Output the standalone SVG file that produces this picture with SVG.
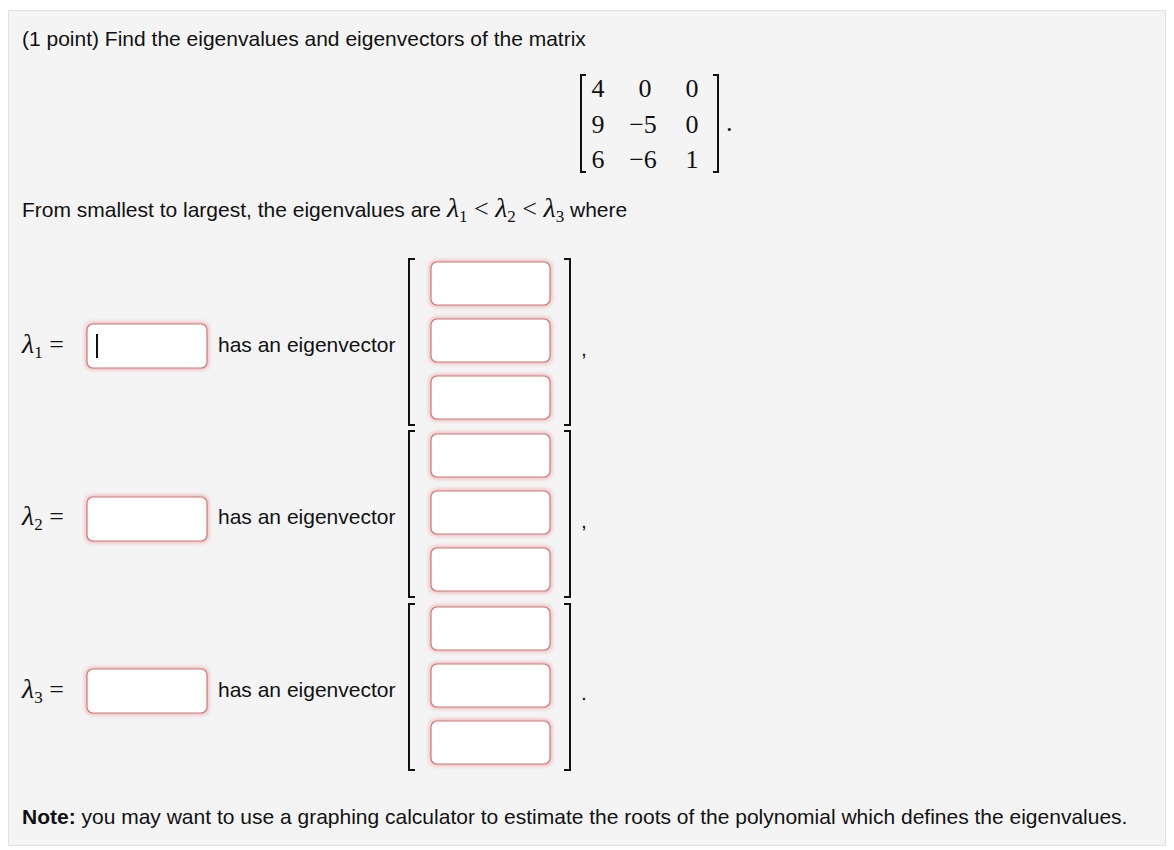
<svg xmlns="http://www.w3.org/2000/svg" width="1174" height="850" viewBox="0 0 1174 850">
<defs>
<filter id="glow" x="-20%" y="-30%" width="140%" height="160%"><feGaussianBlur stdDeviation="2.5"/></filter>
<g id="box"><rect x="-1" y="-1" width="122" height="46" rx="6" fill="#e8a0a0" filter="url(#glow)"/><rect x="0" y="0" width="120" height="44" rx="6" fill="#fff" stroke="#d47a7a" stroke-width="1.2"/></g>
<g id="vbox"><rect x="-1" y="-1" width="121" height="45" rx="6" fill="#e8a0a0" filter="url(#glow)"/><rect x="0" y="0" width="119" height="43" rx="6" fill="#fff" stroke="#d47a7a" stroke-width="1.2"/></g>
</defs>
<style>
.s{font-family:"Liberation Sans",Arial,sans-serif;font-size:21px;fill:#111}
.m{font-family:"Liberation Serif","DejaVu Serif",serif;font-size:26px;fill:#111}
.l{font-family:"Liberation Serif","DejaVu Serif",serif;font-size:28px;font-style:italic;fill:#111}
.sub{font-family:"Liberation Serif",serif;font-size:17px;fill:#111}
.br{fill:none;stroke:#111;stroke-width:2}
</style>
<rect width="1174" height="850" fill="#fff"/>
<rect x="8.5" y="10.5" width="1157" height="835" fill="#f4f4f4" stroke="#e2e2e2"/>
<text class="s" x="22" y="46">(1 point) Find the eigenvalues and eigenvectors of the matrix</text>
<g id="matrix">
<path class="br" d="M586,75 h-5 v97 h5 M713,75 h5 v97 h-5"/>
<g class="m" text-anchor="middle">
<text x="598" y="97">4</text><text x="645" y="97">0</text><text x="692" y="97">0</text>
<text x="598" y="133">9</text><text x="643" y="133">−5</text><text x="692" y="133">0</text>
<text x="598" y="168">6</text><text x="643" y="168">−6</text><text x="692" y="168">1</text>
</g>
<text class="m" x="726" y="131">.</text>
</g>
<text class="s" x="22" y="217">From smallest to largest, the eigenvalues are <tspan class="l">λ</tspan><tspan class="sub" dy="5">1</tspan><tspan class="m" dy="-5">  &lt;  </tspan><tspan class="l">λ</tspan><tspan class="sub" dy="5">2</tspan><tspan class="m" dy="-5">  &lt;  </tspan><tspan class="l">λ</tspan><tspan class="sub" dy="5">3</tspan><tspan dy="-5"> where</tspan></text>

<g id="row1">
<text x="22" y="353"><tspan class="l">λ</tspan><tspan class="sub" dy="5">1</tspan><tspan class="m" dy="-5">  = </tspan></text>
<use href="#box" x="87" y="324"/>
<rect x="96" y="334" width="2" height="24" fill="#111"/>
<text class="s" x="218" y="352">has an eigenvector</text>
<path class="br" d="M415,259 h-6 v166 h6 M564,259 h6 v166 h-6"/>
<use href="#vbox" x="431" y="262"/><use href="#vbox" x="431" y="319"/><use href="#vbox" x="431" y="376"/>
<text class="s" x="581" y="356">,</text>
</g>
<g id="row2">
<text x="22" y="525"><tspan class="l">λ</tspan><tspan class="sub" dy="5">2</tspan><tspan class="m" dy="-5">  = </tspan></text>
<use href="#box" x="87" y="497"/>
<text class="s" x="218" y="524">has an eigenvector</text>
<path class="br" d="M415,431 h-6 v166 h6 M564,431 h6 v166 h-6"/>
<use href="#vbox" x="431" y="434"/><use href="#vbox" x="431" y="491"/><use href="#vbox" x="431" y="548"/>
<text class="s" x="581" y="528">,</text>
</g>
<g id="row3">
<text x="22" y="698"><tspan class="l">λ</tspan><tspan class="sub" dy="5">3</tspan><tspan class="m" dy="-5">  = </tspan></text>
<use href="#box" x="87" y="669"/>
<text class="s" x="218" y="697">has an eigenvector</text>
<path class="br" d="M415,604 h-6 v166 h6 M564,604 h6 v166 h-6"/>
<use href="#vbox" x="431" y="607"/><use href="#vbox" x="431" y="664"/><use href="#vbox" x="431" y="721"/>
<text class="s" x="581" y="700">.</text>
</g>
<text class="s" x="22" y="824"><tspan font-weight="bold">Note:</tspan> you may want to use a graphing calculator to estimate the roots of the polynomial which defines the eigenvalues.</text>
</svg>
